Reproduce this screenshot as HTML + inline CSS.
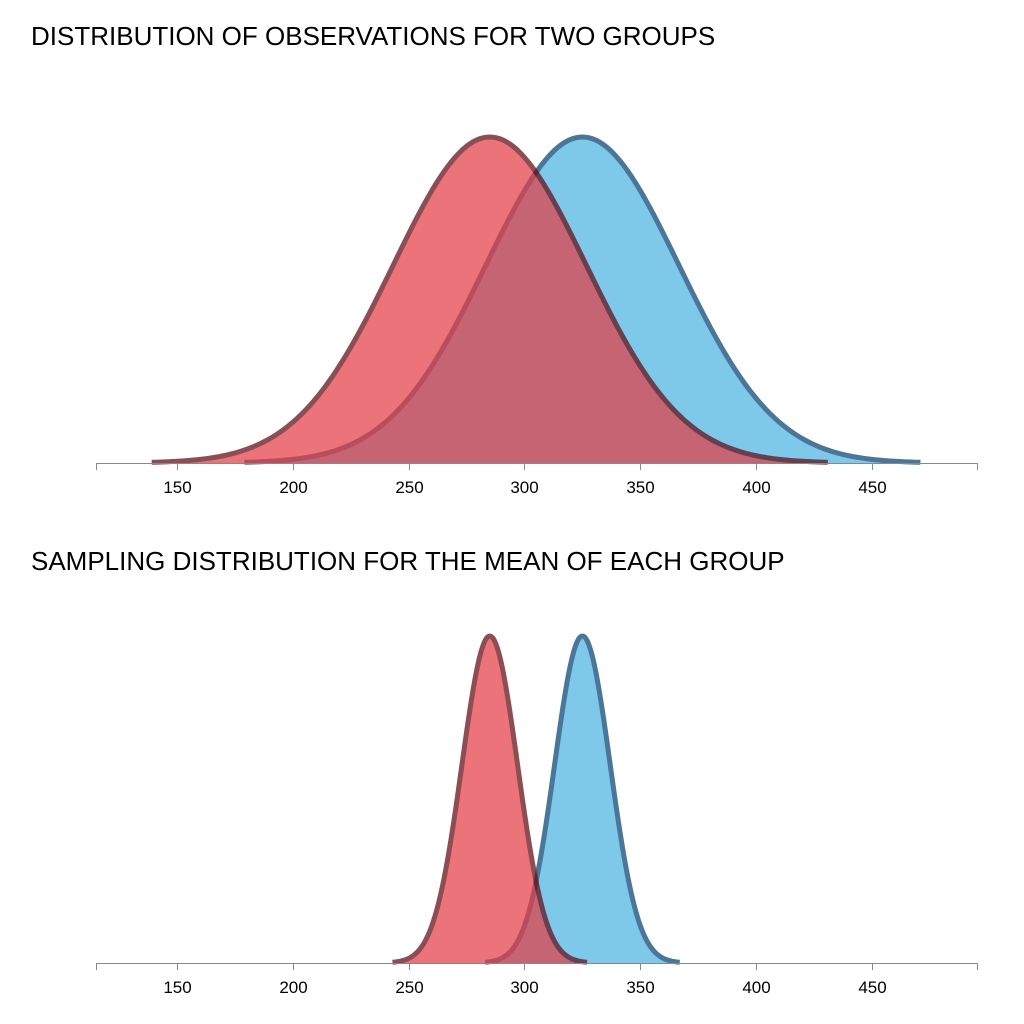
<!DOCTYPE html>
<html><head><meta charset="utf-8"><style>
body{margin:0;background:#fff;font-family:"Liberation Sans",Arial,sans-serif}
svg text{font-family:"Liberation Sans",Arial,sans-serif}
</style></head><body>
<svg id="svg" width="1024" height="1019">
<text x="31" y="45" font-size="26" fill="#000">DISTRIBUTION OF OBSERVATIONS FOR TWO GROUPS</text>
<text x="31" y="570" font-size="26" fill="#000">SAMPLING DISTRIBUTION FOR THE MEAN OF EACH GROUP</text>
</svg>
<script>
const groupNames = ["blue", "red"];
const groupMeans = [325, 285];
const obsSD = [41.7, 41.7];
const sampSD = [12, 12];
const tickValues = [150, 200, 250, 300, 350, 400, 450];
const xDomain = [115, 495.8];

const svg = document.getElementById('svg');
const NS = 'http://www.w3.org/2000/svg';
const x = v => 96 + (v - xDomain[0]) / (xDomain[1] - xDomain[0]) * (978 - 96);
const fills = {blue: "#7ec8ea", red: "#e43e46"};
const strokes = {blue: "#4a7699", red: "#620b12"};
const opac = {blue: 1, red: 0.72};

function panel(baseY, peakY, sds, prefix) {
  const h = baseY - peakY;
  groupNames.forEach((g, i) => {
    const m = groupMeans[i], s = sds[i];
    const lo = m - 3.5 * s, hi = m + 3.5 * s;
    let pts = [];
    for (let k = 0; k <= 200; k++) {
      const v = lo + (hi - lo) * k / 200;
      const d = Math.exp(-0.5 * ((v - m) / s) ** 2);
      pts.push([x(v), baseY - d * h]);
    }
    const line = pts.map((p, k) => (k ? 'L' : 'M') + p[0].toFixed(2) + ' ' + p[1].toFixed(2)).join('');
    const grp = document.createElementNS(NS, 'g');
    
    
    grp.setAttribute('opacity', opac[g]);
    const area = document.createElementNS(NS, 'path');
    
    
    area.setAttribute('d', line + 'L' + x(hi) + ' ' + baseY + 'L' + x(lo) + ' ' + baseY + 'Z');
    area.setAttribute('fill', fills[g]);
    grp.appendChild(area);
    const ln = document.createElementNS(NS, 'path');
    
    
    ln.setAttribute('d', line);
    ln.setAttribute('fill', 'none');
    ln.setAttribute('stroke', strokes[g]);
    ln.setAttribute('stroke-width', '5');
    grp.appendChild(ln);
    svg.appendChild(grp);
  });
  const ax = document.createElementNS(NS, 'g');
  
  
  let s = `<path d="M96.5 ${baseY + 7}V${baseY}.5H977.5V${baseY + 7}" fill="none" stroke="#888" stroke-width="1"/>`;
  tickValues.forEach(t => {
    const tx = Math.round(x(t)) + 0.5;
    s += `<line x1="${tx}" x2="${tx}" y1="${baseY}" y2="${baseY + 7}" stroke="#888"/>`;
    s += `<text x="${tx}" y="${baseY + 30}" text-anchor="middle" font-size="17" fill="#000">${t}</text>`;
  });
  ax.innerHTML = s;
  svg.appendChild(ax);
}
panel(463, 137, obsSD, 'top');
panel(963, 636, sampSD, 'bottom');
</script>
</body></html>
